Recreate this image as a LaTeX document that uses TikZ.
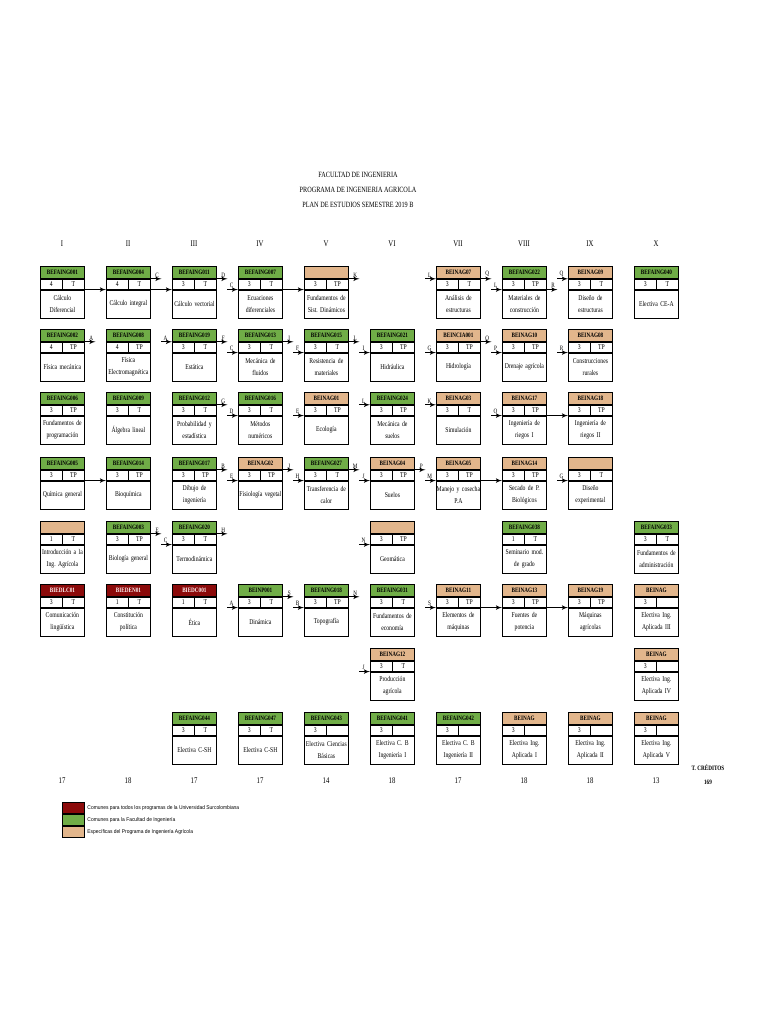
\documentclass[tikz,border=0pt]{standalone}
\usepackage{fontspec}
\setmainfont{Liberation Serif}
\newfontfamily\celda{Liberation Serif}[FakeStretch=0.78]
\newfontfamily\leyenda{Liberation Sans}[FakeStretch=0.9]
\usepackage{tikz}
\usetikzlibrary{arrows,positioning}
\frenchspacing

\definecolor{verde}{RGB}{112,173,71}
\definecolor{beige}{RGB}{226,182,140}
\definecolor{vinotinto}{RGB}{139,10,10}

\newcommand{\asig}[8]{%
  \node [hdr, #4, anchor=north west] (#1) at (#2,#3) {#5};
  \node [cred, below right=0pt and 0pt of #1.south west] (#1-c) {#6};
  \node [cred, below left=0pt and 0pt of #1.south east] (#1-t) {#7};
  \node [nom, below right=0pt and 0pt of #1-c.south west] (#1-n) {#8};
}
\newcommand{\sale}[2]{%
  \coordinate (#1-s) at ([xshift=8pt]#1.south east);
  \draw [flecha] (#1.south east) -- (#1-s) node [letra, pos=.6] {#2};
}
\newcommand{\saleb}[2]{%
  \coordinate (#1-s) at ([xshift=8pt]#1-n.north east);
  \draw [flecha] (#1-n.north east) -- (#1-s) node [letra, pos=.6] {#2};
}
\newcommand{\entra}[2]{%
  \coordinate (#1-e) at ([xshift=-8pt]#1.south west);
  \draw [flecha] (#1-e) -- (#1.south west) node [letra, pos=.4] {#2};
}
\newcommand{\entrab}[2]{%
  \coordinate (#1-e) at ([xshift=-8pt]#1-n.north west);
  \draw [flecha] (#1-e) -- (#1-n.north west) node [letra, pos=.4] {#2};
}

\begin{document}
\begin{tikzpicture}[x=0.75pt, y=-0.75pt, >=latex',
  hdr/.style={draw, line width=.6pt, minimum width=33pt, minimum height=9pt, inner sep=0pt, font=\celda\bfseries\fontsize{5}{5}\selectfont},
  cred/.style={draw, line width=.6pt, minimum width=16.5pt, minimum height=7.5pt, inner sep=0pt, font=\celda\fontsize{5.5}{6}\selectfont},
  nom/.style={draw, line width=.6pt, minimum width=33pt, text width=42pt, minimum height=21pt, inner xsep=-4.5pt, inner ysep=1pt, align=center, font=\celda\fontsize{5.5}{9}\selectfont},
  verdes/.style={fill=verde},
  tierra/.style={fill=beige},
  rojo/.style={fill=vinotinto, text=white!85!pink},
  letra/.style={above, inner sep=1pt, font=\celda\fontsize{5}{5}\selectfont},
  flecha/.style={->, line width=.6pt},
  num/.style={font=\celda\fontsize{6.5}{7}\selectfont},
  titulo/.style={align=center, font=\celda\fontsize{6}{11.25}\selectfont},
  ley/.style={draw, minimum width=16.5pt, minimum height=8.6pt, inner sep=0pt, anchor=north west},
  leytxt/.style={inner sep=1pt, font=\leyenda\fontsize{4.1}{4.5}\selectfont}]

  \path [fill=white] (0,0) rectangle (768,1024);
  \useasboundingbox (0,0) rectangle (768,1024);

  \node [titulo] (titulo) at (358,190) {FACULTAD DE INGENIERIA\\PROGRAMA DE INGENIERIA AGRICOLA\\PLAN DE ESTUDIOS SEMESTRE 2019 B};

  \foreach \r [count=\i] in {I,II,III,IV,V,VI,VII,VIII,IX,X}
    \node [num] (sem\i) at ({62+66*(\i-1)},244) {\r};

  % semestre I a X, fila por fila
  \asig{calcdif}{40}{266}{verdes}{BEFAING001}{4}{T}{Cálculo\\Diferencial}
  \asig{calcint}{106}{266}{verdes}{BEFAING004}{4}{T}{Cálculo integral}
  \asig{calcvec}{172}{266}{verdes}{BEFAING011}{3}{T}{Cálculo vectorial}
  \asig{ecudif}{238}{266}{verdes}{BEFAING007}{3}{T}{Ecuaciones\\diferenciales}
  \asig{sistdin}{304}{266}{tierra}{}{3}{TP}{Fundamentos de\\Sist. Dinámicos}
  \asig{analest}{436}{266}{tierra}{BEINAG07}{3}{T}{Análisis de\\estructuras}
  \asig{matcons}{502}{266}{verdes}{BEFAING022}{3}{TP}{Materiales de\\construcción}
  \asig{disest}{568}{266}{tierra}{BEINAG09}{3}{T}{Diseño de\\estructuras}
  \asig{electcea}{634}{266}{verdes}{BEFAING040}{3}{T}{Electiva CE-A}

  \asig{fismec}{40}{329}{verdes}{BEFAING002}{4}{TP}{Física mecánica}
  \asig{fiselec}{106}{329}{verdes}{BEFAING008}{4}{TP}{Física\\Electromagnética}
  \asig{estatica}{172}{329}{verdes}{BEFAING019}{3}{T}{Estática}
  \asig{mecflu}{238}{329}{verdes}{BEFAING013}{3}{T}{Mecánica de\\fluidos}
  \asig{resmat}{304}{329}{verdes}{BEFAING015}{3}{T}{Resistencia de\\materiales}
  \asig{hidraul}{370}{329}{verdes}{BEFAING021}{3}{TP}{Hidráulica}
  \asig{hidrol}{436}{329}{tierra}{BEINCIA001}{3}{TP}{Hidrología}
  \asig{drenaje}{502}{329}{tierra}{BEINAG10}{3}{TP}{Drenaje agrícola}
  \asig{construr}{568}{329}{tierra}{BEINAG08}{3}{TP}{Construcciones\\rurales}

  \asig{fundprog}{40}{392}{verdes}{BEFAING006}{3}{TP}{Fundamentos de\\programación}
  \asig{alglin}{106}{392}{verdes}{BEFAING009}{3}{T}{Álgebra lineal}
  \asig{probest}{172}{392}{verdes}{BEFAING012}{3}{T}{Probabilidad y\\estadística}
  \asig{metnum}{238}{392}{verdes}{BEFAING016}{3}{T}{Métodos\\numéricos}
  \asig{ecologia}{304}{392}{tierra}{BEINAG01}{3}{TP}{Ecología}
  \asig{mecsue}{370}{392}{verdes}{BEFAING024}{3}{TP}{Mecánica de\\suelos}
  \asig{simul}{436}{392}{tierra}{BEINAG03}{3}{T}{Simulación}
  \asig{riegos1}{502}{392}{tierra}{BEINAG17}{3}{TP}{Ingeniería de\\riegos I}
  \asig{riegos2}{568}{392}{tierra}{BEINAG18}{3}{TP}{Ingeniería de\\riegos II}

  \asig{quimgen}{40}{457}{verdes}{BEFAING005}{3}{TP}{Química general}
  \asig{bioquim}{106}{457}{verdes}{BEFAING014}{3}{TP}{Bioquímica}
  \asig{dibujo}{172}{457}{verdes}{BEFAING017}{3}{TP}{Dibujo de\\ingeniería}
  \asig{fisveg}{238}{457}{tierra}{BEINAG02}{3}{TP}{Fisiología vegetal}
  \asig{transcal}{304}{457}{verdes}{BEFAING027}{3}{T}{Transferencia de\\calor}
  \asig{suelos}{370}{457}{tierra}{BEINAG04}{3}{TP}{Suelos}
  \asig{manejo}{436}{457}{tierra}{BEINAG05}{3}{TP}{Manejo y cosecha\\P.A}
  \asig{secado}{502}{457}{tierra}{BEINAG14}{3}{TP}{Secado de P.\\Biológicos}
  \asig{disexp}{568}{457}{tierra}{}{3}{T}{Diseño\\experimental}

  \asig{introing}{40}{521}{tierra}{}{1}{T}{Introducción a la\\Ing. Agrícola}
  \asig{biogen}{106}{521}{verdes}{BEFAING003}{3}{TP}{Biología general}
  \asig{termo}{172}{521}{verdes}{BEFAING020}{3}{T}{Termodinámica}
  \asig{geomat}{370}{521}{tierra}{}{3}{TP}{Geomática}
  \asig{seminario}{502}{521}{verdes}{BEFAING038}{1}{T}{Seminario mod.\\de grado}
  \asig{fundadm}{634}{521}{verdes}{BEFAING033}{3}{T}{Fundamentos de\\administración}

  \asig{comling}{40}{584}{rojo}{BIEDLC01}{3}{T}{Comunicación\\lingüística}
  \asig{constpol}{106}{584}{rojo}{BIEDEN01}{1}{T}{Constitución\\política}
  \asig{etica}{172}{584}{rojo}{BIEDC001}{1}{T}{Ética}
  \asig{dinamica}{238}{584}{verdes}{BEINP001}{3}{T}{Dinámica}
  \asig{topogr}{304}{584}{verdes}{BEFAING018}{3}{TP}{Topografía}
  \asig{fundeco}{370}{584}{verdes}{BEFAING031}{3}{T}{Fundamentos de\\economía}
  \asig{elemmaq}{436}{584}{tierra}{BEINAG11}{3}{TP}{Elementos de\\máquinas}
  \asig{fuentes}{502}{584}{tierra}{BEINAG13}{3}{TP}{Fuentes de\\potencia}
  \asig{maqagr}{568}{584}{tierra}{BEINAG19}{3}{TP}{Máquinas\\agrícolas}
  \asig{electiii}{634}{584}{tierra}{BEINAG}{3}{}{Electiva Ing.\\Aplicada III}

  \asig{prodagr}{370}{648}{tierra}{BEINAG12}{3}{T}{Producción\\agrícola}
  \asig{electiv}{634}{648}{tierra}{BEINAG}{3}{}{Electiva Ing.\\Aplicada IV}

  \asig{electsh1}{172}{712}{verdes}{BEFAING044}{3}{T}{Electiva C-SH}
  \asig{electsh2}{238}{712}{verdes}{BEFAING047}{3}{T}{Electiva C-SH}
  \asig{electcb}{304}{712}{verdes}{BEFAING043}{3}{}{Electiva Ciencias\\Básicas}
  \asig{electcbi}{370}{712}{verdes}{BEFAING041}{3}{}{Electiva C. B\\Ingeniería I}
  \asig{electcbii}{436}{712}{verdes}{BEFAING042}{3}{}{Electiva C. B\\Ingeniería II}
  \asig{electi}{502}{712}{tierra}{BEINAG}{3}{}{Electiva Ing.\\Aplicada I}
  \asig{electii}{568}{712}{tierra}{BEINAG}{3}{}{Electiva Ing.\\Aplicada II}
  \asig{electv}{634}{712}{tierra}{BEINAG}{3}{}{Electiva Ing.\\Aplicada V}

  % prerrequisitos directos
  \draw [flecha] (calcdif-n.north east) -- (calcint-n.north west);
  \draw [flecha] (calcint-n.north east) -- (calcvec-n.north west);
  \draw [flecha] (ecudif-n.north east) -- (sistdin-n.north west);
  \draw [flecha] (riegos1-n.north east) -- (riegos2-n.north west);
  \draw [flecha] (quimgen-n.north east) -- (bioquim-n.north west);
  \draw [flecha] (manejo-n.north east) -- (secado-n.north west);
  \draw [flecha] (elemmaq-n.north east) -- (fuentes-n.north west);
  \draw [flecha] (fuentes-n.north east) -- (maqagr-n.north west);

  % prerrequisitos con letra
  \sale{calcint}{C} \sale{calcvec}{D} \sale{sistdin}{K} \sale{analest}{Q} \saleb{matcons}{R}
  \sale{fismec}{A} \sale{estatica}{F} \sale{mecflu}{I} \sale{resmat}{L} \sale{hidrol}{O}
  \sale{probest}{G}
  \sale{dibujo}{B} \sale{fisveg}{J} \sale{transcal}{M} \sale{suelos}{P}
  \sale{biogen}{E} \sale{termo}{H}
  \sale{dinamica}{S} \sale{topogr}{N}

  \entrab{ecudif}{C} \entra{analest}{L} \entrab{matcons}{L} \entra{disest}{Q}
  \entra{estatica}{A} \entrab{mecflu}{C} \entrab{resmat}{F} \entrab{hidraul}{I}
  \entrab{hidrol}{G} \entrab{drenaje}{P} \entrab{construr}{R}
  \entrab{metnum}{D} \entrab{ecologia}{E} \entra{mecsue}{L} \entra{simul}{K} \entrab{riegos1}{O}
  \entrab{fisveg}{E} \entrab{transcal}{H} \entrab{suelos}{J} \entrab{manejo}{M} \entrab{disexp}{G}
  \entrab{termo}{C} \entrab{geomat}{N}
  \entrab{dinamica}{A} \entrab{topogr}{B} \entrab{elemmaq}{S}
  \entrab{prodagr}{J}

  \foreach \t [count=\i] in {17,18,17,17,14,18,17,18,18,13}
    \node [num] (tot\i) at ({62+66*(\i-1)},781) {\t};
  \node [num, font=\celda\bfseries\fontsize{5}{5}\selectfont] (tcred) at (708,768) {T. CRÉDITOS};
  \node [num, font=\celda\bfseries\fontsize{5}{5}\selectfont] (tcredval) at (708,782) {169};

  \node [ley, fill=vinotinto] (leyrojo) at (62,802) {};
  \node [ley, fill=verde, below=0pt of leyrojo] (leyverde) {};
  \node [ley, fill=beige, below=0pt of leyverde] (leytierra) {};
  \node [leytxt, right=1pt of leyrojo] (leyrojo-t) {Comunes para todos los programas de la Universidad Surcolombiana};
  \node [leytxt, right=1pt of leyverde] (leyverde-t) {Comunes para la Facultad de Ingeniería};
  \node [leytxt, right=1pt of leytierra] (leytierra-t) {Específicas del Programa de Ingeniería Agrícola};
\end{tikzpicture}
\end{document}
